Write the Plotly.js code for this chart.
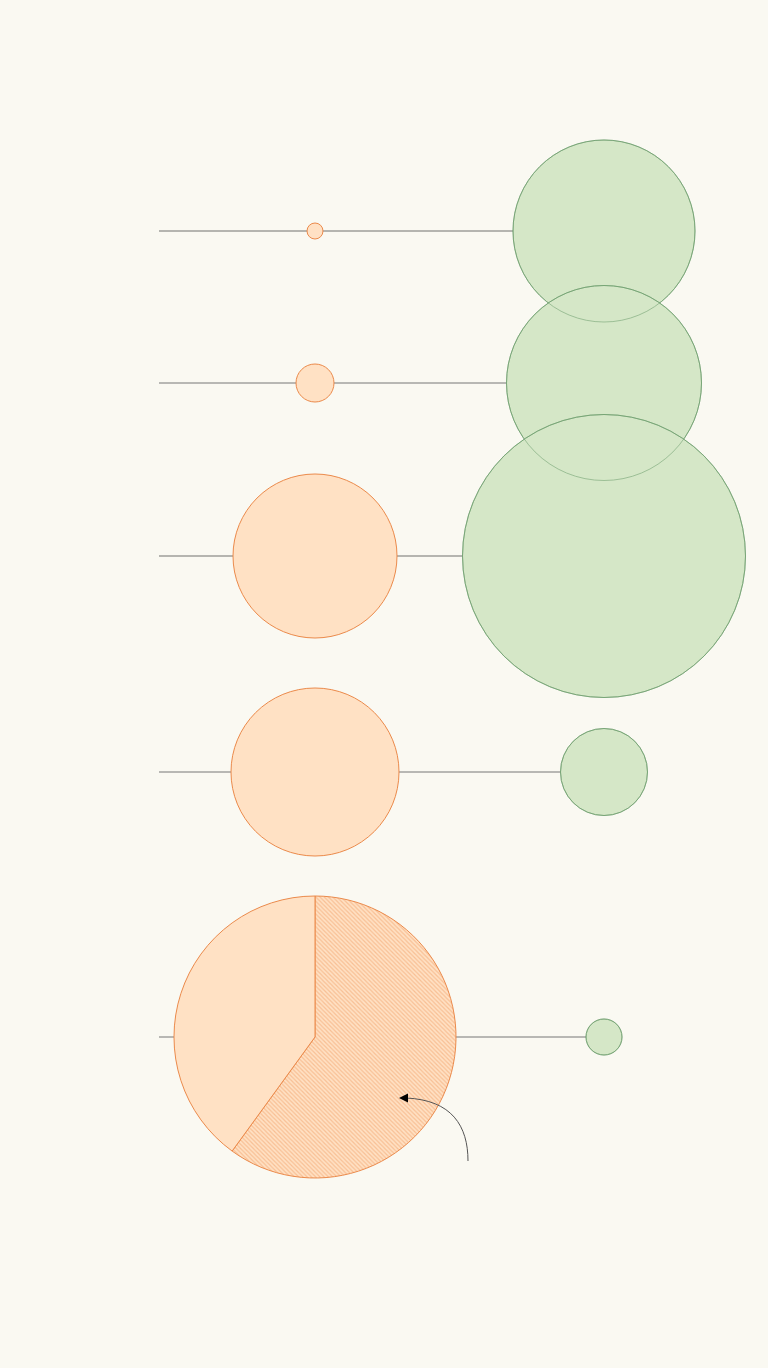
<!DOCTYPE html>
<html>
<head>
<meta charset="utf-8">
<script src="https://cdn.plot.ly/plotly-3.0.1.min.js"></script>
<style>html,body{margin:0;padding:0;background:#faf9f2;}#chart{width:768px;height:1368px;}</style>
</head>
<body>
<div id="chart"></div>
<script>
// ---- data ----
var rowValues   = [231, 383, 556, 772, 1037];     // vertical value of each row
var orangeSizes = [16, 38, 164, 168, 282];        // left bubble size
var greenSizes  = [182, 195, 283, 87, 36];        // right bubble size
var lineStyles  = ['light', 'dark', 'light', 'dark', 'dark'];
var pieShares   = [60, 40];                        // split of the last left bubble
var pieLabels   = ['hatched', 'plain'];

// ---- layout constants ----
var W = 768, H = 1368;
var orangeX = 315, greenX = 604, lineStart = 159;
var bg = '#faf9f2';
var orangeFill = '#ffe1c4', orangeLine = '#eb8a4b';
var greenFill = '#d5e7c7', greenLine = '#6f9e6f';

var traces = [];
// connecting lines
for (var i = 0; i < rowValues.length; i++) {
  var light = lineStyles[i] === 'light';
  traces.push({
    type: 'scatter', mode: 'lines',
    x: [lineStart, greenX - greenSizes[i] / 2],
    y: [rowValues[i], rowValues[i]],
    line: {color: light ? '#b5b5b0' : '#777777', width: light ? 2 : 1},
    hoverinfo: 'skip', showlegend: false
  });
}
var n = rowValues.length;
// orange bubbles (all but the last one, which is the pie)
traces.push({
  type: 'scatter', mode: 'markers',
  x: rowValues.slice(0, n - 1).map(function(){return orangeX;}),
  y: rowValues.slice(0, n - 1),
  marker: {size: orangeSizes.slice(0, n - 1), color: orangeFill, opacity: 1,
           line: {color: orangeLine, width: 1}},
  hoverinfo: 'skip', showlegend: false
});
// green bubbles
traces.push({
  type: 'scatter', mode: 'markers',
  x: rowValues.map(function(){return greenX;}),
  y: rowValues,
  marker: {size: greenSizes, color: greenFill, opacity: 1,
           line: {color: greenLine, width: 0.8}},
  hoverinfo: 'skip', showlegend: false
});
// green outlines on top so overlapping outlines stay visible
traces.push({
  type: 'scatter', mode: 'markers',
  x: rowValues.map(function(){return greenX;}),
  y: rowValues,
  marker: {size: greenSizes, color: 'rgba(0,0,0,0)',
           line: {color: greenLine, width: 0.8}},
  hoverinfo: 'skip', showlegend: false
});
// pie for the last row
var pr = orangeSizes[n - 1] / 2;
var pcy = H - rowValues[n - 1];
traces.push({
  type: 'pie',
  values: pieShares, labels: pieLabels,
  sort: false, direction: 'clockwise', rotation: 0,
  textinfo: 'none', hoverinfo: 'skip', showlegend: false,
  domain: {x: [(orangeX - pr) / W, (orangeX + pr) / W], y: [(pcy - pr) / H, (pcy + pr) / H]},
  marker: {
    colors: [orangeFill, orangeFill],
    line: {color: orangeLine, width: 1},
    pattern: {shape: ['\\', ''], fgcolor: '#f8bf94', bgcolor: orangeFill, size: 3, solidity: 0.4}
  }
});

var layout = {
  width: W, height: H,
  paper_bgcolor: bg, plot_bgcolor: bg,
  margin: {l: 0, r: 0, t: 0, b: 0},
  showlegend: false,
  hovermode: false,
  xaxis: {range: [0, W], visible: false, fixedrange: true},
  yaxis: {range: [H, 0], visible: false, fixedrange: true},
  shapes: [{
    type: 'path', xref: 'x', yref: 'y',
    path: 'M 468 1161 C 468 1126, 452 1100, 406 1098',
    line: {color: '#555555', width: 1}
  }],
  annotations: [{
    x: 399, y: 1098, xref: 'x', yref: 'y',
    ax: 10, ay: 0, text: '', showarrow: true,
    arrowhead: 2, arrowsize: 1.8, arrowwidth: 1, arrowcolor: '#000000', standoff: 0
  }]
};

Plotly.newPlot('chart', traces, layout, {displayModeBar: false, staticPlot: true});
</script>
</body>
</html>
